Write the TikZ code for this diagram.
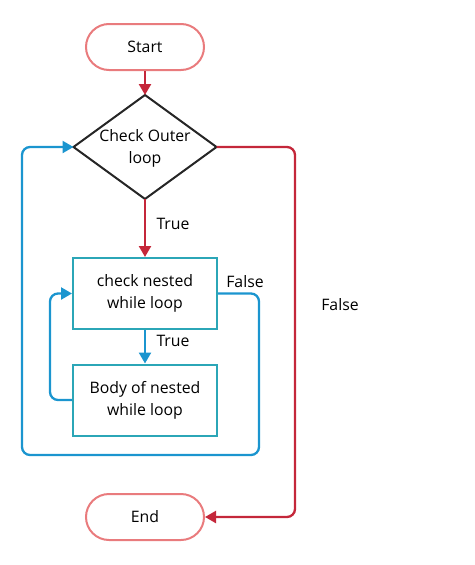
\documentclass[tikz,border=0pt]{standalone}
\usepackage{fontspec}
\setmainfont{Open Sans}
\usetikzlibrary{arrows.meta,shapes.geometric,shapes.misc}
\definecolor{redline}{HTML}{C4273A}
\definecolor{blueline}{HTML}{1B95CF}
\definecolor{teal}{HTML}{2BA6B7}
\definecolor{salmon}{HTML}{E97B7D}
\begin{document}
\begin{tikzpicture}[x=1pt,y=-1pt,
  txt/.style={font=\fontsize{15.8}{22}\selectfont, align=center, text=black},
  term/.style={txt, draw=salmon, line width=2pt, rounded rectangle, minimum width=118pt, minimum height=46pt, inner sep=0pt},
  decide/.style={draw=black!85, line width=2pt, diamond, minimum width=143pt, minimum height=104pt, inner sep=0pt, outer sep=0pt},
  procbox/.style={txt, draw=teal, line width=2pt, rectangle, minimum width=144pt, minimum height=71pt, inner sep=0pt},
  redarr/.style={draw=redline, line width=2.3pt, -{Triangle[length=11pt,width=12pt]}, rounded corners=8pt},
  bluearr/.style={draw=blueline, line width=2.3pt, -{Triangle[length=11pt,width=12pt]}, rounded corners=8pt},
  lbl/.style={font=\fontsize{15.8}{22}\selectfont, text=black}
]
\useasboundingbox (0,0) rectangle (474,565);
\node[term] (start) at (145,47) {Start};
\node[decide] (outer) at (145,147) {};
\node[txt] (outertxt) at (145,148) {Check Outer\\loop};
\node[procbox] (nested) at (145,293.5) {check nested\\while loop};
\node[procbox] (body) at (145,400) {Body of nested\\while loop};
\node[term] (end) at (145,517) {End};

\coordinate (c1) at (295,147);
\coordinate (c2) at (295,517);
\coordinate (b1) at (259,293.5);
\coordinate (b2) at (259,455);
\coordinate (b3) at (22,455);
\coordinate (b4) at (22,147);
\coordinate (l1) at (50,400);
\coordinate (l2) at (50,293.5);

\draw[redarr] (start) -- (outer.north);
\draw[redarr] (outer.south) -- (nested.north);
\node[lbl] (t1) at (173,224) {True};
\draw[redarr] (outer.east) -- (c1) -- (c2) -- (end.east);
\node[lbl] (f2) at (340,305) {False};

\draw[bluearr] (nested.south) -- (body.north);
\node[lbl] (t2) at (173,341) {True};
\draw[bluearr] (body.west) -- (l1) -- (l2) -- (nested.west);
\draw[bluearr] (nested.east) -- (b1) -- (b2) -- (b3) -- (b4) -- (outer.west);
\node[lbl] (f1) at (245,282) {False};
\end{tikzpicture}
\end{document}
